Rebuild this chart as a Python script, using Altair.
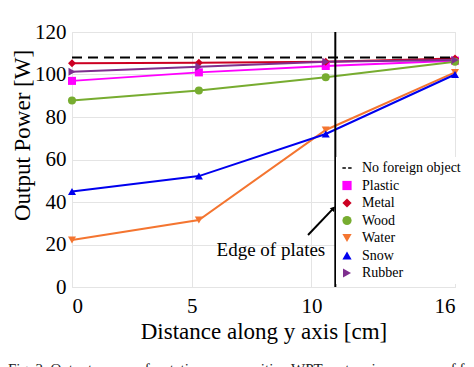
import altair as alt
import pandas as pd

# ---- data ----
x_pos = [0, 5.3, 10.6, 16]
plastic = [97, 101, 104, 106.5]
metal = [105.3, 105.5, 106, 107.5]
wood = [87.8, 92.5, 98.7, 106]
water = [22.1, 31.5, 73.9, 101]
snow = [44.9, 52.2, 72, 100]
rubber = [101.3, 103.7, 106, 106.8]
no_object_level = 108
edge_x = 11

series_names = ["No foreign object", "Plastic", "Metal", "Wood", "Water", "Snow", "Rubber"]
series_colors = ["#000000", "#ff00ff", "#cc0022", "#77ac30", "#f47530", "#0000ee", "#7e2f8e"]
dash_symbol = "M-1,-0.18H-0.25V0.18H-1Z M0.25,-0.18H1V0.18H0.25Z"
series_shapes = [dash_symbol, "square", "diamond", "circle", "triangle-down", "triangle-up", "triangle-right"]

x_ticks = [0, 5, 10, 16]
y_ticks = [0, 20, 40, 60, 80, 100, 120]

annot_text = "Edge of plates"
annot_xy = (8.31, 17.4)
arrow_from = (9.86, 24.5)
arrow_to = (10.92, 37.0)

caption = "Fig. 2. Output power of a stationary capacitive WPT system in presence of foreign objects"

# ---- tables ----
rows = []
for name, vals in zip(series_names[1:], [plastic, metal, wood, water, snow, rubber]):
    for xv, yv in zip(x_pos, vals):
        rows.append({"x": xv, "y": yv, "series": name})
df = pd.DataFrame(rows)
df_dash = pd.DataFrame({"x": [0, 16], "y": [no_object_level] * 2})
df_edge = pd.DataFrame({"x": [edge_x], "y": [0], "y2": [120]})
df_text = pd.DataFrame({"x": [annot_xy[0]], "y": [annot_xy[1]], "t": [annot_text]})
df_arrow = pd.DataFrame({"x": [arrow_from[0], arrow_to[0]], "y": [arrow_from[1], arrow_to[1]]})
df_head = pd.DataFrame({"x": [arrow_to[0]], "y": [arrow_to[1]]})
df_cap = pd.DataFrame({"t": [caption]})

W, H = 383, 255
FONT = "Liberation Serif"

xs = alt.Scale(domain=[0, 16], nice=False, zero=False)
ys = alt.Scale(domain=[0, 120], nice=False)

X = alt.X("x:Q", scale=xs, axis=alt.Axis(values=x_ticks, title="Distance along y axis  [cm]",
                                         labelFontSize=21, titleFontSize=23, labelPadding=8,
                                         titlePadding=4, domain=False, ticks=False,
                                         gridColor="#e4e4e4", labelColor="#000", titleColor="#000",
                                         titleFontWeight="normal", labelFont=FONT, titleFont=FONT))
Y = alt.Y("y:Q", scale=ys, axis=alt.Axis(values=y_ticks, title="Output Power [W]",
                                         labelFontSize=21, titleFontSize=23, labelPadding=6,
                                         titleY=103, titleX=-50, titleAlign="center",
                                         titleBaseline="middle",
                                         domain=False, ticks=False, gridColor="#e4e4e4",
                                         labelColor="#000", titleColor="#000",
                                         titleFontWeight="normal", labelFont=FONT, titleFont=FONT))

color_scale = alt.Scale(domain=series_names, range=series_colors)
shape_scale = alt.Scale(domain=series_names, range=series_shapes)

line_layers = []
for name, col in zip(series_names[1:], series_colors[1:]):
    line_layers.append(
        alt.Chart(df).transform_filter(alt.datum.series == name)
        .mark_line(strokeWidth=2, clip=False, color=col)
        .encode(x=X if not line_layers else alt.X("x:Q", scale=xs),
                y=Y if not line_layers else alt.Y("y:Q", scale=ys))
    )

leg = alt.Legend(title=None, orient="none", legendX=264, legendY=125,
                 labelFont=FONT, labelFontSize=14, labelColor="#000",
                 symbolSize=85, symbolStrokeWidth=0, rowPadding=3.5,
                 labelOffset=8, fillColor="white", padding=4, offset=0)

points = alt.Chart(df).mark_point(filled=True, opacity=1, size=65, clip=False).encode(
    x=alt.X("x:Q", scale=xs), y=alt.Y("y:Q", scale=ys),
    color=alt.Color("series:N", scale=color_scale, legend=leg),
    shape=alt.Shape("series:N", scale=shape_scale, legend=leg),
)

dash = alt.Chart(df_dash).mark_line(color="black", strokeWidth=2.2, strokeDash=[10, 6], clip=False).encode(
    x=alt.X("x:Q", scale=xs), y=alt.Y("y:Q", scale=ys))

edge = alt.Chart(df_edge).mark_rule(color="black", strokeWidth=2).encode(
    x=alt.X("x:Q", scale=xs), y=alt.Y("y:Q", scale=ys), y2="y2:Q")

txt = alt.Chart(df_text).mark_text(font=FONT, fontSize=19, color="black").encode(
    x=alt.X("x:Q", scale=xs), y=alt.Y("y:Q", scale=ys), text="t:N")

arrow = alt.Chart(df_arrow).mark_line(color="black", strokeWidth=2).encode(
    x=alt.X("x:Q", scale=xs), y=alt.Y("y:Q", scale=ys))

head = alt.Chart(df_head).mark_point(shape="triangle-up", filled=True, color="black", size=30,
                                     angle=41, opacity=1).encode(
    x=alt.X("x:Q", scale=xs), y=alt.Y("y:Q", scale=ys))

cap = alt.Chart(df_cap).mark_text(font=FONT, fontSize=15, color="#222", align="left",
                                  baseline="top").encode(
    x=alt.value(-64), y=alt.value(330), text="t:N")

chart = alt.layer(*line_layers, dash, points, edge, txt, arrow, head, cap).properties(
    width=W, height=H,
    autosize=alt.AutoSizeParams(type="none"),
    padding={"left": 64, "top": 24, "right": 11, "bottom": 80},
).configure_view(stroke="#404040", strokeWidth=1).configure(
    background="white", font=FONT
).configure_legend(labelFont=FONT)

chart.save("out.html", embed_options={"renderer": "svg", "actions": False})
